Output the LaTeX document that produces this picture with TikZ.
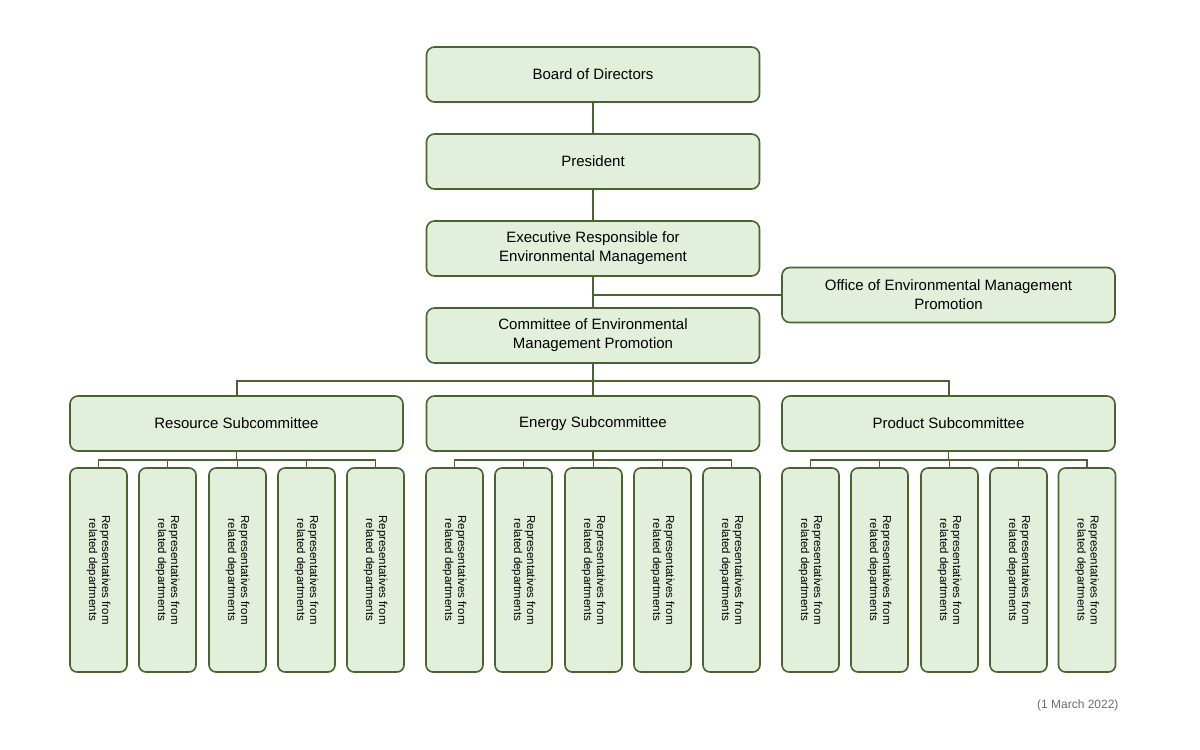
\documentclass[tikz,border=0pt]{standalone}
\usepackage{fontspec}
\setmainfont{Liberation Sans}
\begin{document}
\begin{tikzpicture}[x=1pt,y=1pt,
  box/.style={draw=lineg,fill=boxg,line width=1.6pt,rounded corners=8pt,align=center,font=\fontsize{15}{19}\selectfont,inner sep=0pt},
  big/.style={box,minimum width=333,minimum height=55},
  rep/.style={box,rotate=-90,minimum width=204,minimum height=57,rounded corners=7pt,font=\fontsize{11.5}{13}\selectfont},
  con/.style={draw=lineg,line width=2pt}]
\definecolor{boxg}{HTML}{E2EFDA}
\definecolor{lineg}{HTML}{4A6330}
\useasboundingbox (0,0) rectangle (1200,-750);
\node[big] (bod) at (593,-74.5) {Board of Directors};
\node[big] (pres) at (593,-161.5) {President};
\node[big] (exec) at (593,-248.5) {Executive Responsible for\\Environmental Management};
\node[big] (cemp) at (593,-335.5) {Committee of Environmental\\Management Promotion};
\node[big] (off) at (948.5,-295) {Office of Environmental Management\\Promotion};
\node[big] (res) at (236.5,-423.5) {Resource Subcommittee};
\node[big] (ene) at (593,-423.5) {Energy Subcommittee};
\node[big] (pro) at (948.5,-423.5) {Product Subcommittee};
\coordinate (j) at (593,-295);
\draw[con] (bod) -- (pres);
\draw[con] (pres) -- (exec);
\draw[con] (exec) -- (cemp);
\draw[con] (j) -- (off);
\draw[con] (cemp.south) -- (ene.north);
\draw[con] (cemp.south) ++(0,-17) -| (res.north);
\draw[con] (cemp.south) ++(0,-17) -| (pro.north);
\foreach \g/\xs in {res/{98.5,167.5,237.5,306.5,375.5},ene/{454.5,523.5,593.5,662.5,731.5},pro/{810.5,879.5,949.5,1018.5,1087}}{
  \foreach \x [count=\i] in \xs {
    \node[rep] (\g\i) at (\x,-570) {Representatives from\\related departments};
    \draw[con,line width=1.4pt] (\g.south) -- ++(0,-8) -| (\g\i.west);
  }
}
\node[anchor=east,text=gray!85!black,font=\fontsize{12}{14}\selectfont] (date) at (1122,-705) {(1 March 2022)};
\end{tikzpicture}
\end{document}
